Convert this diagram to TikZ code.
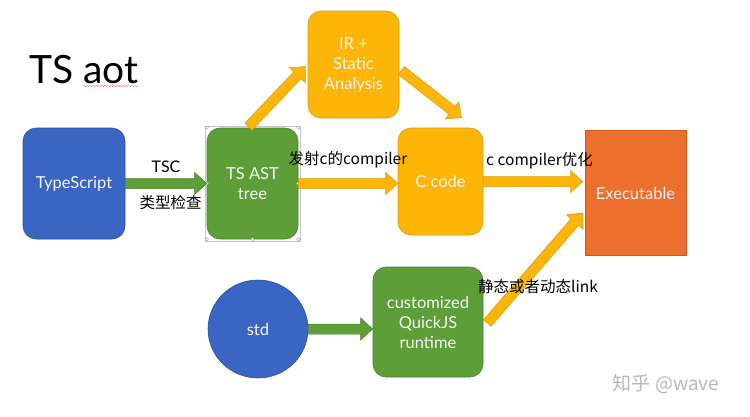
\documentclass[tikz,border=0pt]{standalone}
\usepackage{fontspec}
\setmainfont{Lato}
\newfontfamily\cjk{Noto Sans CJK SC}
\usetikzlibrary{calc,decorations.pathmorphing,shapes.geometric}
\definecolor{cblue}{HTML}{3A65C3}
\definecolor{cbluedk}{HTML}{2F52A0}
\definecolor{cgreen}{HTML}{5E9E38}
\definecolor{cgreendk}{HTML}{4C8029}
\definecolor{corange}{HTML}{FDB508}
\definecolor{corangedk}{HTML}{D99A05}
\definecolor{cexe}{HTML}{EC6F2D}
\definecolor{cexedk}{HTML}{C85A20}
\definecolor{ctext}{HTML}{F4F4F4}
\tikzset{
  box/.style={rounded corners=13pt, line width=0.6pt, inner sep=0pt, align=center,
    font=\fontsize{16.5}{20}\selectfont, text=ctext},
  lbl/.style={font=\cjk\fontsize{15.5}{18}\selectfont, inner sep=0pt, text=black},
  garrow/.style={fill=cgreen, draw=cgreendk, line width=0.5pt},
  oarrow/.style={fill=corange, draw=corangedk, line width=0.5pt},
  handle/.style={circle, draw=gray!70, fill=white, line width=0.4pt, inner sep=0pt, minimum size=3.5pt}
}
\newcommand\blockarr[3]{%
  \coordinate (bh) at ($(#3)!12pt!(#2)$);
  \filldraw[#1] ($(#2)!5pt!90:(#3)$) -- ($(bh)!5pt!90:(#3)$) -- ($(bh)!11pt!90:(#3)$) -- (#3)
    -- ($(bh)!11pt!-90:(#3)$) -- ($(bh)!5pt!-90:(#3)$) -- ($(#2)!5pt!-90:(#3)$) -- cycle;}
\begin{document}
\begin{tikzpicture}[x=1pt,y=-1pt]
\useasboundingbox[fill=white] (0,0) rectangle (750,416);

% title
\node[anchor=base west, inner sep=0pt, font=\fontsize{39}{42}\selectfont] (title) at (29,83) {TS aot};
\draw[red!55, line width=0.4pt, decorate, decoration={snake, amplitude=0.6pt, segment length=3pt}]
  ($(title.base west)+(54,3)$) -- ($(title.base east)+(0,3)$);

% boxes
\node[box, fill=cblue, draw=cbluedk, minimum width=102pt, minimum height=111pt] (ts) at (74,183.5) {TypeScript};
\node[box, fill=cgreen, draw=cgreendk, minimum width=91pt, minimum height=111pt] (ast) at (252.5,183.5) {TS AST\\tree};
\node[box, fill=corange, draw=corangedk, minimum width=91pt, minimum height=107pt] (ir) at (353.5,64.5) {IR +\\Static\\Analysis};
\node[box, fill=corange, draw=corangedk, minimum width=85pt, minimum height=107pt] (cc) at (440.5,181.5) {C code};
\node[box, rounded corners=0pt, fill=cexe, draw=cexedk, minimum width=101pt, minimum height=125pt] (exe) at (635.5,193) {Executable};
\node[ellipse, fill=cblue, draw=cbluedk, line width=0.6pt, minimum width=100pt, minimum height=98pt, inner sep=0pt,
      font=\fontsize{16.5}{20}\selectfont, text=ctext] (std) at (258,329) {std};
\node[box, fill=cgreen, draw=cgreendk, minimum width=110pt, minimum height=110pt, text=ctext] (qjs) at (428,322) {customized\\QuickJS\\runtime};

% selection frame and handles on TS AST tree
\draw[gray!45, line width=0.3pt] ($(ast.north west)+(-2,-1.5)$) rectangle ($(ast.south east)+(2,1.5)$);
\foreach \p in {north west,north,north east,east,south east,south,south west,west}
  \node[handle] at ($(ast.\p)+(0,0)$) {};

% connector end points
\coordinate (a1) at ($(ast.north)+(-4,-1)$);
\coordinate (ir0) at ($(ir.west)+(-2,2)$);
\coordinate (ir1) at ($(ir.east)+(2,6)$);
\coordinate (c1) at ($(cc.north)+(21,-10)$);
\coordinate (astin) at (ast.west |- ts.east);
\coordinate (ccin) at (cc.west |- ast.east);
\coordinate (ccout) at (cc.east);
\coordinate (e1) at ($(exe.west |- cc.east)+(-2,0)$);
\coordinate (e2) at ($(exe.west)+(-2,20)$);
\coordinate (q0) at (qjs.west |- std.east);
\coordinate (q1) at ($(qjs.east)+(4,1)$);

% block arrows
\blockarr{garrow}{ts.east}{astin}
\blockarr{oarrow}{a1}{ir0}
\blockarr{oarrow}{ir1}{c1}
\blockarr{oarrow}{ast.east}{ccin}
\blockarr{oarrow}{ccout}{e1}
\blockarr{garrow}{std.east}{q0}
\blockarr{oarrow}{q1}{e2}

% labels
\node[lbl, font=\fontsize{16}{18}\selectfont] (tsc) at (166,167) {TSC};
\node[lbl] (check) at (170.5,203) {类型检查};
\node[lbl] (emit) at (348,160) {发射c的compiler};
\node[lbl] (opt) at (539.5,161) {c compiler优化};
\node[lbl] (link) at (538,287) {静态或者动态link};

% watermark
\node[inner sep=0pt, text=gray!55, font=\cjk\fontsize{19}{20}\selectfont] (wm) at (666,384) {知乎 @wave};
\end{tikzpicture}
\end{document}
